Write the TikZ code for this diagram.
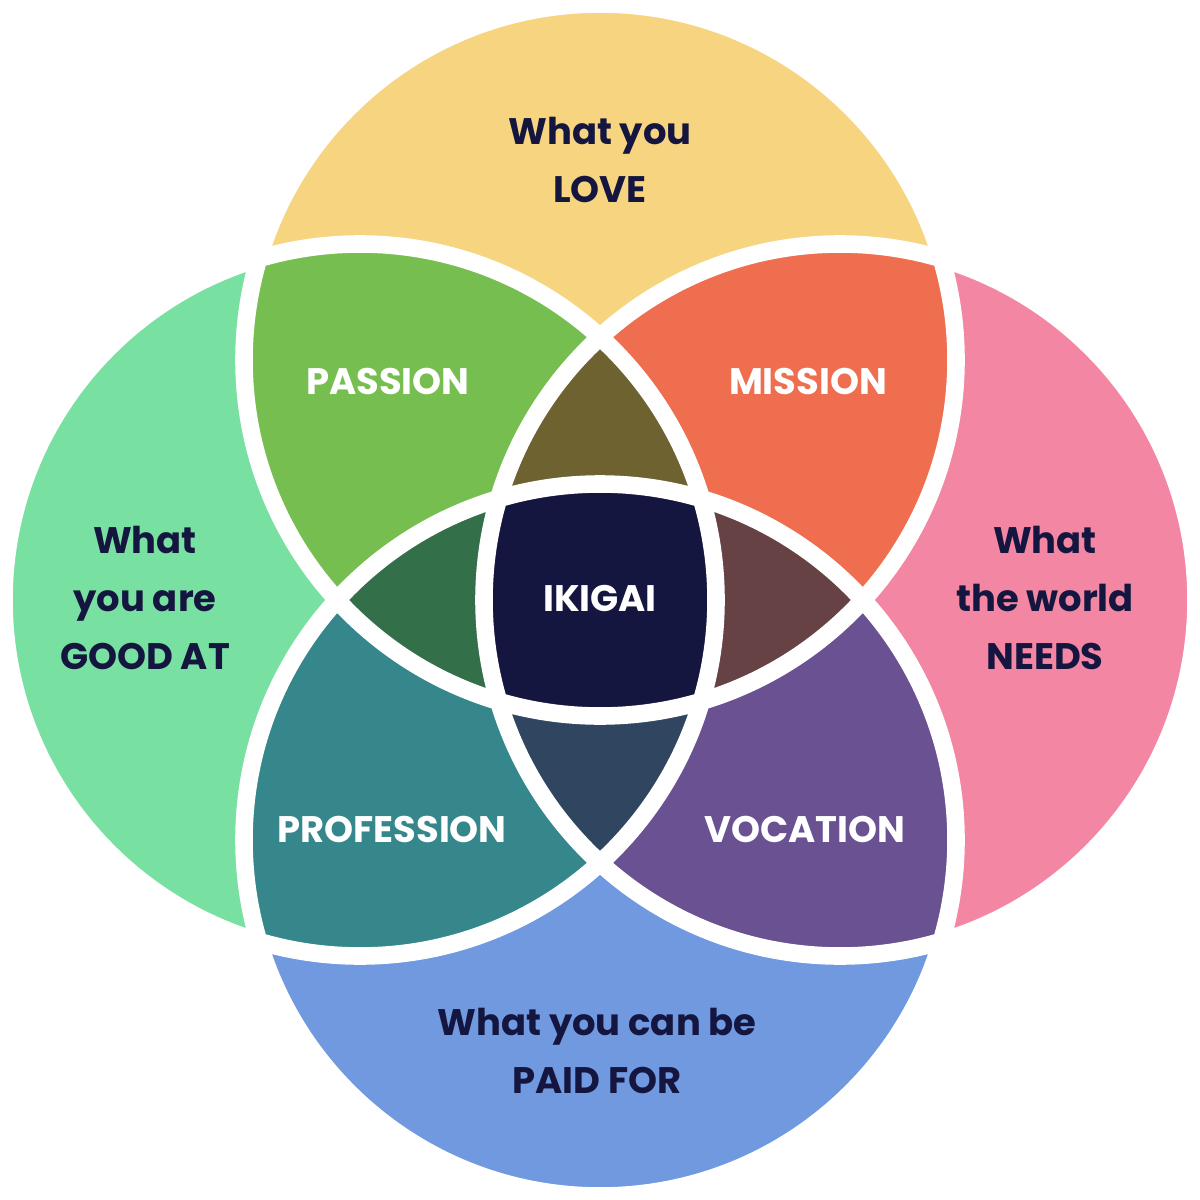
\documentclass[tikz,border=0pt]{standalone}
\usepackage{fontspec}
\setmainfont{Poppins}
\definecolor{ink}{HTML}{14163F}
\definecolor{loveC}{HTML}{F7D580}
\definecolor{goodC}{HTML}{78E0A0}
\definecolor{needC}{HTML}{F386A2}
\definecolor{paidC}{HTML}{7099E0}
\definecolor{passC}{HTML}{77BE50}
\definecolor{missC}{HTML}{EE6E4F}
\definecolor{profC}{HTML}{35878C}
\definecolor{vocaC}{HTML}{6A5192}
\definecolor{tlrC}{HTML}{6E6330}
\definecolor{tlbC}{HTML}{33704A}
\definecolor{trbC}{HTML}{674245}
\definecolor{lrbC}{HTML}{304660}
\newcommand{\cTop}{(600,360) circle [radius=356]}
\newcommand{\cLeft}{(360,600) circle [radius=356]}
\newcommand{\cRight}{(840,600) circle [radius=356]}
\newcommand{\cBot}{(600,840) circle [radius=356]}
\tikzset{
  big/.style={font=\bfseries\fontsize{10.5}{16.5}\selectfont, text=ink, align=center},
  zone/.style={font=\bfseries\fontsize{10.5}{16.5}\selectfont, text=white, align=center}
}
\begin{document}
\begin{tikzpicture}[x=0.01cm,y=-0.01cm]
\useasboundingbox (0,0) rectangle (1200,1200);
\fill[loveC] \cTop;
\fill[goodC] \cLeft;
\fill[needC] \cRight;
\fill[paidC] \cBot;
\begin{scope} \clip \cTop; \fill[passC] \cLeft; \fill[missC] \cRight; \end{scope}
\begin{scope} \clip \cBot; \fill[profC] \cLeft; \fill[vocaC] \cRight; \end{scope}
\begin{scope} \clip \cLeft; \clip \cRight; \fill[tlrC] \cTop; \fill[lrbC] \cBot; \end{scope}
\begin{scope} \clip \cTop; \clip \cBot; \fill[tlbC] \cLeft; \fill[trbC] \cRight; \end{scope}
\begin{scope} \clip \cTop; \clip \cBot; \clip \cLeft; \fill[ink] \cRight; \end{scope}
\draw[white,line width=5] \cTop \cLeft \cRight \cBot;
% labels
\node[big] (love) at (600,160) {What you\\LOVE};
\node[big] (good) at (145,598) {What\\you are\\GOOD AT};
\node[big] (need) at (1045,598) {What\\the world\\NEEDS};
\node[big] (paid) at (597,1051) {What you can be\\PAID FOR};
\node[zone] (passion) at (388,381) {PASSION};
\node[zone] (mission) at (808,381) {MISSION};
\node[zone] (profession) at (392,829) {PROFESSION};
\node[zone] (vocation) at (805,829) {VOCATION};
\node[zone] (ikigai) at (600,598) {IKIGAI};
\end{tikzpicture}
\end{document}
